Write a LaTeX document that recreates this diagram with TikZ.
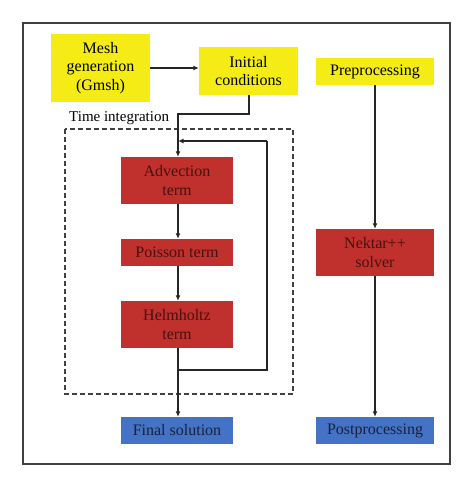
\documentclass[tikz,border=0pt]{standalone}
\usepackage{fontspec}
\setmainfont{Liberation Serif}
\usetikzlibrary{arrows.meta}
\definecolor{ylw}{HTML}{F5EC16}
\definecolor{rd}{HTML}{C0302C}
\definecolor{bl}{HTML}{4472C4}
\definecolor{rdtxt}{HTML}{4A1010}
\definecolor{bltxt}{HTML}{18223C}
\begin{document}
\begin{tikzpicture}[x=1pt,y=-1pt,
  box/.style={inner sep=0pt,align=center,font=\fontsize{16}{18.3}\selectfont},
  ybox/.style={box,fill=ylw,text=black},
  rbox/.style={box,fill=rd,text=rdtxt},
  bbox/.style={box,fill=bl,text=bltxt},
  arr/.style={draw=black!85,line width=1.2pt,-{Latex[length=5.5pt,width=5pt]}},
  ln/.style={draw=black!85,line width=1.2pt}]
\useasboundingbox (0,0) rectangle (474,488);
\draw[black!75,line width=1.3pt] (23,23) rectangle (450,464);
\draw[black!75,line width=1.3pt,dash pattern=on 5pt off 3pt] (65,129) rectangle (293,394);
\node[anchor=south west,inner sep=0pt,font=\fontsize{15}{18}\selectfont] (ti) at (69,125) {Time integration};
\node[ybox,minimum width=99pt,minimum height=68pt] (mesh) at (100.5,68) {Mesh\\generation\\(Gmsh)};
\node[ybox,minimum width=99pt,minimum height=48pt] (init) at (248.5,71) {Initial\\conditions};
\node[ybox,minimum width=118pt,minimum height=27pt] (pre) at (375,71.5) {Preprocessing};
\node[rbox,minimum width=112pt,minimum height=47pt] (adv) at (177,180.5) {Advection\\term};
\node[rbox,minimum width=112pt,minimum height=27pt] (poi) at (177,252.5) {Poisson term};
\node[rbox,minimum width=112pt,minimum height=47pt] (hel) at (177,324.5) {Helmholtz\\term};
\node[bbox,minimum width=112pt,minimum height=27pt] (fin) at (177,430.5) {Final solution};
\node[rbox,minimum width=118pt,minimum height=47pt] (nek) at (375,252.5) {Nektar++\\solver};
\node[bbox,minimum width=118pt,minimum height=27pt] (post) at (375,430.5) {Postprocessing};
\coordinate (j1) at (249,114);
\coordinate (j2) at (178,114);
\coordinate (lp) at (178,370);
\coordinate (lr) at (267,370);
\coordinate (lt) at (267,141);
\coordinate (la) at (178,141);
\draw[arr] (mesh.east |- 0,68) -- (init.west |- 0,68);
\draw[arr] (init.south -| j1) -- (j1) -- (j2) -- (adv.north -| j2);
\draw[arr] (adv.south -| j2) -- (poi.north -| j2);
\draw[arr] (poi.south -| j2) -- (hel.north -| j2);
\draw[arr] (hel.south -| j2) -- (fin.north -| j2);
\draw[ln] (lp) -- (lr) -- (lt);
\draw[arr] (lt) -- (la);
\draw[arr] (pre) -- (nek);
\draw[arr] (nek) -- (post);
\end{tikzpicture}
\end{document}
